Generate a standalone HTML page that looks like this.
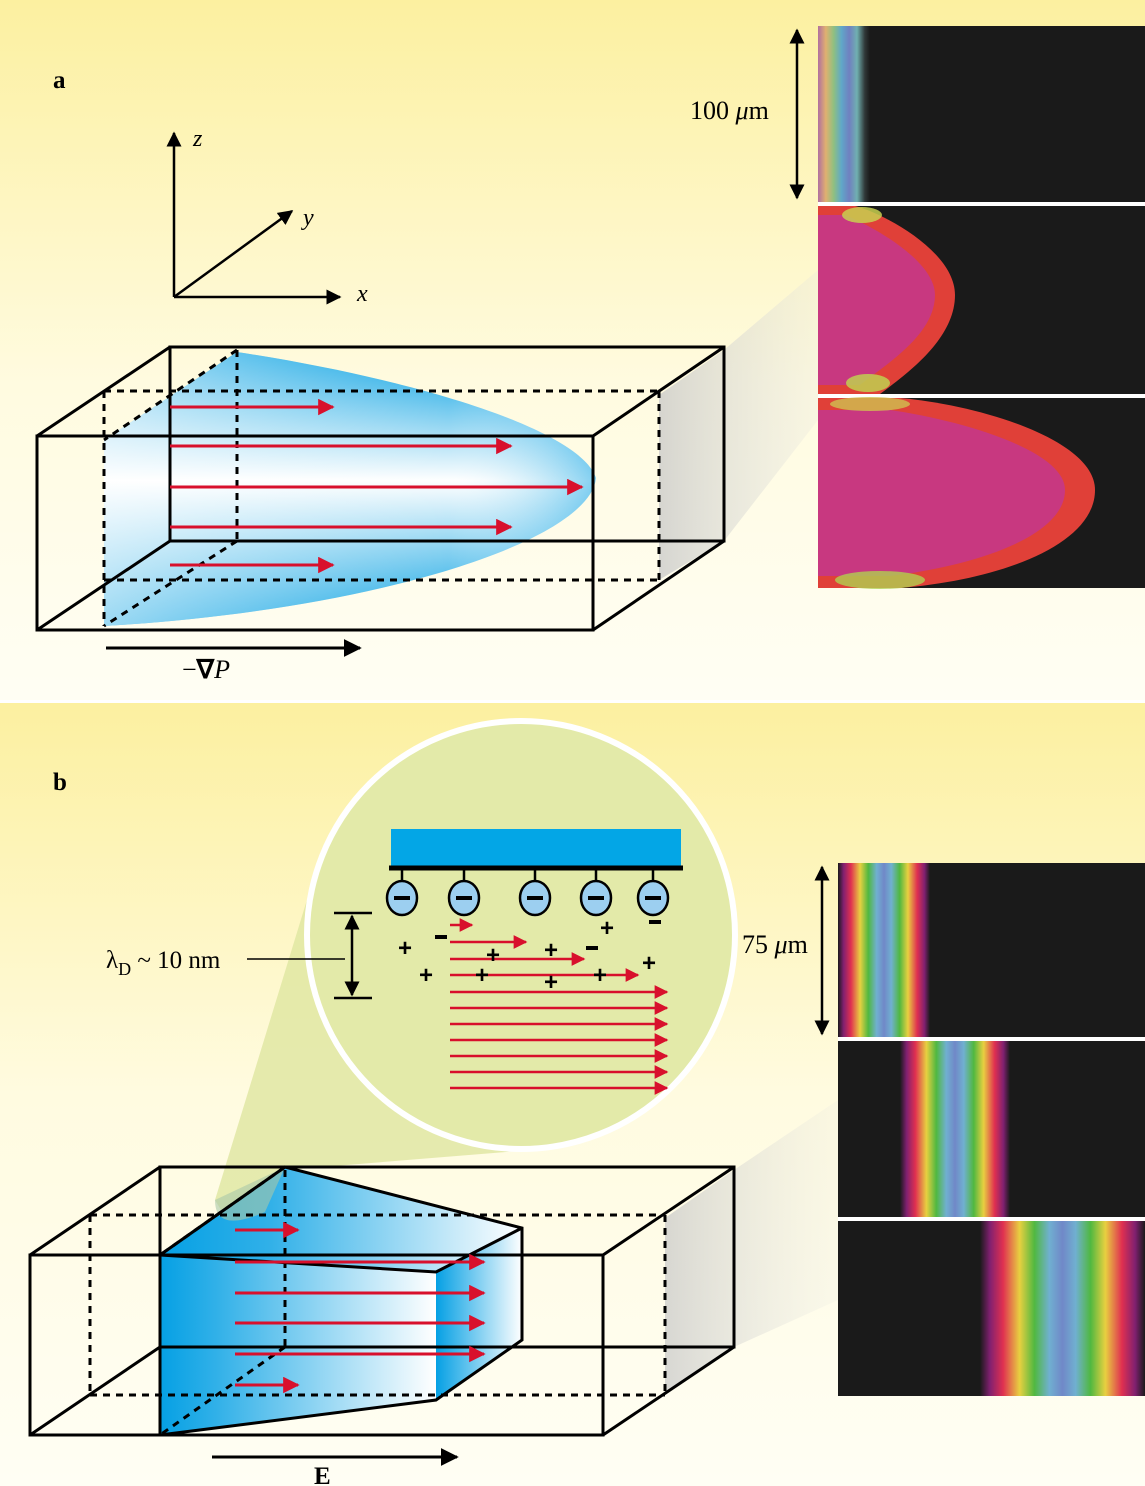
<!DOCTYPE html>
<html><head><meta charset="utf-8"><style>html,body{margin:0;padding:0;background:#fff}svg{display:block}</style></head><body>
<svg width="1145" height="1486" viewBox="0 0 1145 1486" xmlns="http://www.w3.org/2000/svg" font-family="Liberation Serif, serif">
<defs>
<linearGradient id="bgA" x1="0" y1="0" x2="0" y2="1"><stop offset="0" stop-color="#fcf0a0"/><stop offset="0.55" stop-color="#fffbe0"/><stop offset="1" stop-color="#fffef4"/></linearGradient>
<linearGradient id="bgB" x1="0" y1="0" x2="0" y2="1"><stop offset="0" stop-color="#fcf0a0"/><stop offset="0.5" stop-color="#fffbe0"/><stop offset="1" stop-color="#fffef4"/></linearGradient>
<linearGradient id="paraV" x1="0" y1="352" x2="0" y2="626" gradientUnits="userSpaceOnUse"><stop offset="0" stop-color="#05a0e2"/><stop offset="0.47" stop-color="#ffffff"/><stop offset="1" stop-color="#05a0e2"/></linearGradient>
<linearGradient id="paraH" x1="104" y1="0" x2="596" y2="0" gradientUnits="userSpaceOnUse"><stop offset="0" stop-color="#ffffff" stop-opacity="0.6"/><stop offset="0.7" stop-color="#ffffff" stop-opacity="0"/><stop offset="1" stop-color="#05a0e2" stop-opacity="0.5"/></linearGradient>
<linearGradient id="plugF" x1="160" y1="0" x2="436" y2="0" gradientUnits="userSpaceOnUse"><stop offset="0" stop-color="#05a0e4"/><stop offset="0.2" stop-color="#30b0e8"/><stop offset="1" stop-color="#ffffff"/></linearGradient>
<linearGradient id="plugR" x1="436" y1="0" x2="522" y2="0" gradientUnits="userSpaceOnUse"><stop offset="0" stop-color="#05a0e4"/><stop offset="1" stop-color="#ffffff"/></linearGradient>
<linearGradient id="plugT" x1="160" y1="0" x2="522" y2="0" gradientUnits="userSpaceOnUse"><stop offset="0" stop-color="#05a0e4"/><stop offset="0.3" stop-color="#30b0e8"/><stop offset="1" stop-color="#ffffff"/></linearGradient>
<linearGradient id="grayW" x1="659" y1="0" x2="830" y2="0" gradientUnits="userSpaceOnUse"><stop offset="0" stop-color="#c8c8c8"/><stop offset="1" stop-color="#e8e8e0" stop-opacity="0.3"/></linearGradient>
<linearGradient id="band1" x1="818" y1="0" x2="870" y2="0" gradientUnits="userSpaceOnUse"><stop offset="0" stop-color="#b070a0"/><stop offset="0.15" stop-color="#e0b070"/><stop offset="0.3" stop-color="#90c080"/><stop offset="0.45" stop-color="#60a8c8"/><stop offset="0.6" stop-color="#7080c0"/><stop offset="0.75" stop-color="#70b0b0"/><stop offset="0.9" stop-color="#303838"/><stop offset="1" stop-color="#1a1a1a"/></linearGradient>
<linearGradient id="rb" x1="0" y1="0" x2="1" y2="0"><stop offset="0" stop-color="#1a1a1a"/><stop offset="0.06" stop-color="#802070"/><stop offset="0.14" stop-color="#e03050"/><stop offset="0.24" stop-color="#e8d040"/><stop offset="0.33" stop-color="#50b840"/><stop offset="0.42" stop-color="#70b0d0"/><stop offset="0.5" stop-color="#7088c8"/><stop offset="0.58" stop-color="#70b0d0"/><stop offset="0.67" stop-color="#50b840"/><stop offset="0.76" stop-color="#e8d040"/><stop offset="0.86" stop-color="#e03050"/><stop offset="0.94" stop-color="#802070"/><stop offset="1" stop-color="#1a1a1a"/></linearGradient>
<marker id="ar" viewBox="0 0 10 10" refX="9" refY="5" markerWidth="6" markerHeight="5.5" orient="auto" markerUnits="strokeWidth"><path d="M0,0L10,5L0,10z" fill="#d8102c"/></marker>
<marker id="ak" viewBox="0 0 10 10" refX="9" refY="5" markerWidth="6" markerHeight="6" orient="auto-start-reverse" markerUnits="strokeWidth"><path d="M0,0L10,5L0,10z" fill="#000"/></marker>
</defs>

<rect x="0" y="0" width="1145" height="700" fill="url(#bgA)"/>
<rect x="0" y="703" width="1145" height="783" fill="url(#bgB)"/>

<!-- ===== PANEL A ===== -->
<text x="53" y="88" font-size="25" font-weight="bold">a</text>
<g stroke="#000" stroke-width="2.5" fill="none">
<line x1="174" y1="297" x2="174" y2="133" marker-end="url(#ak)"/>
<line x1="174" y1="297" x2="340" y2="297" marker-end="url(#ak)"/>
<line x1="174" y1="297" x2="292" y2="211" marker-end="url(#ak)"/>
</g>
<text x="193" y="146" font-size="24" font-style="italic">z</text>
<text x="357" y="301" font-size="24" font-style="italic">x</text>
<text x="303" y="225" font-size="24" font-style="italic">y</text>

<polygon points="659,395 724,350 818,270 818,420 724,541 659,580" fill="url(#grayW)" opacity="0.75"/>

<path d="M237,352 C420,380 580,430 596,478 C590,540 380,610 104,626 L104,440 Z" fill="url(#paraV)"/>
<path d="M237,352 C420,380 580,430 596,478 C590,540 380,610 104,626 L104,440 Z" fill="url(#paraH)"/>

<g stroke="#000" stroke-width="3" fill="none">
<rect x="37" y="436" width="556" height="194"/>
<rect x="170" y="347" width="554" height="194"/>
<line x1="37" y1="436" x2="170" y2="347"/><line x1="593" y1="436" x2="724" y2="347"/>
<line x1="37" y1="630" x2="170" y2="541"/><line x1="593" y1="630" x2="724" y2="541"/>
</g>
<g stroke="#000" stroke-width="3" fill="none" stroke-dasharray="7,6">
<line x1="104" y1="391" x2="659" y2="391"/><line x1="104" y1="580" x2="659" y2="580"/>
<line x1="104" y1="391" x2="104" y2="626"/><line x1="659" y1="391" x2="659" y2="580"/>
<line x1="237" y1="350" x2="237" y2="541"/>
<line x1="237" y1="350" x2="104" y2="440"/>
<line x1="237" y1="541" x2="104" y2="626"/>
</g>
<g stroke="#d8102c" stroke-width="3" marker-end="url(#ar)">
<line x1="170" y1="407" x2="333" y2="407"/>
<line x1="170" y1="446" x2="511" y2="446"/>
<line x1="170" y1="487" x2="582" y2="487"/>
<line x1="170" y1="527" x2="511" y2="527"/>
<line x1="170" y1="565" x2="333" y2="565"/>
</g>
<line x1="106" y1="648" x2="360" y2="648" stroke="#000" stroke-width="3" marker-end="url(#ak)"/>
<text x="182" y="678" font-size="26">−<tspan font-weight="bold">∇</tspan><tspan font-style="italic">P</tspan></text>

<rect x="818" y="26" width="327" height="562" fill="#fff"/>
<rect x="818" y="26" width="327" height="176" fill="#1a1a1a"/>
<rect x="818" y="26" width="52" height="176" fill="url(#band1)"/>
<rect x="818" y="206" width="327" height="188" fill="#1a1a1a"/>
<path d="M818,206 L855,206 C880,212 955,250 955,295 C955,340 905,375 880,394 L818,394 Z" fill="#e04038"/>
<path d="M818,215 L845,215 C870,225 935,260 935,295 C935,335 885,365 860,385 L818,385 Z" fill="#c83880"/>
<ellipse cx="862" cy="215" rx="20" ry="8" fill="#c8d050" opacity="0.85"/>
<ellipse cx="868" cy="383" rx="22" ry="9" fill="#c0d050" opacity="0.85"/>
<rect x="818" y="398" width="327" height="190" fill="#1a1a1a"/>
<path d="M818,398 L900,398 C980,405 1095,440 1095,490 C1095,545 1000,580 900,588 L818,588 Z" fill="#e04038"/>
<path d="M818,410 L890,410 C960,420 1065,450 1065,490 C1065,535 980,565 890,576 L818,576 Z" fill="#c83880"/>
<ellipse cx="870" cy="404" rx="40" ry="7" fill="#d0c050" opacity="0.8"/>
<ellipse cx="880" cy="580" rx="45" ry="9" fill="#b0d050" opacity="0.8"/>
<line x1="797" y1="30" x2="797" y2="198" stroke="#000" stroke-width="2.5" marker-start="url(#ak)" marker-end="url(#ak)"/>
<text x="690" y="119" font-size="26">100 <tspan font-style="italic">μ</tspan>m</text>

<!-- ===== PANEL B ===== -->
<text x="53" y="790" font-size="25" font-weight="bold">b</text>
<polygon points="665,1218 734,1170 838,1100 838,1300 734,1347 665,1395" fill="url(#grayW)" opacity="0.75"/>
<polygon points="310,890 530,1150 285,1170 230,1225 215,1200" fill="#dfe6a0" opacity="0.8"/>
<circle cx="521" cy="935" r="214" fill="#e3eaa9" stroke="#fff" stroke-width="6"/>
<rect x="391" y="829" width="290" height="37" fill="#03a6e6"/>
<line x1="389" y1="868" x2="683" y2="868" stroke="#000" stroke-width="5"/>
<g stroke="#000" stroke-width="2.5" fill="#9ccff0">
<line x1="402" y1="868" x2="402" y2="882"/><line x1="464" y1="868" x2="464" y2="882"/><line x1="535" y1="868" x2="535" y2="882"/><line x1="596" y1="868" x2="596" y2="882"/><line x1="653" y1="868" x2="653" y2="882"/>
<ellipse cx="402" cy="898" rx="15" ry="17"/><ellipse cx="464" cy="898" rx="15" ry="17"/><ellipse cx="535" cy="898" rx="15" ry="17"/><ellipse cx="596" cy="898" rx="15" ry="17"/><ellipse cx="653" cy="898" rx="15" ry="17"/>
</g>
<g stroke="#000" stroke-width="4"><line x1="394" y1="898" x2="410" y2="898"/><line x1="456" y1="898" x2="472" y2="898"/><line x1="527" y1="898" x2="543" y2="898"/><line x1="588" y1="898" x2="604" y2="898"/><line x1="645" y1="898" x2="661" y2="898"/></g>
<g stroke="#000" stroke-width="2.5"><line x1="334" y1="913" x2="372" y2="913"/><line x1="334" y1="998" x2="372" y2="998"/>
<line x1="352" y1="916" x2="352" y2="995" marker-start="url(#ak)" marker-end="url(#ak)"/>
<line x1="247" y1="959" x2="345" y2="959" stroke-width="1.5"/></g>
<text x="106" y="968" font-size="25">λ<tspan font-size="18" dy="7">D</tspan><tspan dy="-7"> ~ 10 nm</tspan></text>
<g stroke="#d8102c" stroke-width="2.5" marker-end="url(#ar)">
<line x1="450" y1="925" x2="472" y2="925"/>
<line x1="450" y1="942" x2="526" y2="942"/>
<line x1="450" y1="959" x2="584" y2="959"/>
<line x1="450" y1="975" x2="638" y2="975"/>
<line x1="450" y1="992" x2="667" y2="992"/>
<line x1="450" y1="1008" x2="667" y2="1008"/>
<line x1="450" y1="1024" x2="667" y2="1024"/>
<line x1="450" y1="1040" x2="667" y2="1040"/>
<line x1="450" y1="1056" x2="667" y2="1056"/>
<line x1="450" y1="1072" x2="667" y2="1072"/>
<line x1="450" y1="1088" x2="667" y2="1088"/>
</g>
<g font-family="Liberation Sans, sans-serif" font-size="24" font-weight="bold" text-anchor="middle">
<text x="405" y="956">+</text><text x="426" y="983">+</text><text x="482" y="983">+</text><text x="493" y="963">+</text><text x="551" y="958">+</text><text x="551" y="990">+</text><text x="600" y="983">+</text><text x="607" y="936">+</text><text x="649" y="971">+</text>
</g>
<g stroke="#000" stroke-width="4"><line x1="435" y1="937" x2="447" y2="937"/><line x1="586" y1="948" x2="598" y2="948"/><line x1="649" y1="922" x2="661" y2="922"/></g>

<polygon points="160,1255 285,1167 522,1228 436,1272" fill="url(#plugT)"/>
<polygon points="160,1255 436,1272 436,1400 160,1435" fill="url(#plugF)"/>
<polygon points="436,1272 522,1228 522,1340 436,1400" fill="url(#plugR)"/>
<path d="M215,1200 C215,1225 235,1225 265,1212 L285,1167 Z" fill="#a8c8a8" opacity="0.6"/>
<g stroke="#000" stroke-width="3" fill="none">
<rect x="30" y="1255" width="573" height="180"/>
<rect x="160" y="1167" width="574" height="180"/>
<line x1="30" y1="1255" x2="160" y2="1167"/><line x1="603" y1="1255" x2="734" y2="1167"/>
<line x1="30" y1="1435" x2="160" y2="1347"/><line x1="603" y1="1435" x2="734" y2="1347"/>
<polyline points="160,1255 285,1167 522,1228 522,1340 436,1400 160,1435"/>
<polyline points="160,1255 436,1272 522,1228"/>
<line x1="160" y1="1255" x2="160" y2="1435"/>
</g>
<g stroke="#000" stroke-width="3" fill="none" stroke-dasharray="7,6">
<line x1="90" y1="1215" x2="665" y2="1215"/><line x1="90" y1="1395" x2="665" y2="1395"/>
<line x1="90" y1="1215" x2="90" y2="1395"/><line x1="665" y1="1215" x2="665" y2="1395"/>
<line x1="285" y1="1170" x2="285" y2="1347"/>
<line x1="285" y1="1347" x2="160" y2="1435"/>
<line x1="285" y1="1167" x2="160" y2="1255"/>
</g>
<g stroke="#d8102c" stroke-width="3" marker-end="url(#ar)">
<line x1="235" y1="1230" x2="298" y2="1230"/>
<line x1="235" y1="1262" x2="484" y2="1262"/>
<line x1="235" y1="1293" x2="484" y2="1293"/>
<line x1="235" y1="1323" x2="484" y2="1323"/>
<line x1="235" y1="1354" x2="484" y2="1354"/>
<line x1="235" y1="1385" x2="298" y2="1385"/>
</g>
<line x1="212" y1="1457" x2="457" y2="1457" stroke="#000" stroke-width="3" marker-end="url(#ak)"/>
<text x="314" y="1484" font-size="25" font-weight="bold">E</text>

<rect x="838" y="863" width="307" height="533" fill="#fff"/>
<rect x="838" y="863" width="307" height="174" fill="#1a1a1a"/>
<rect x="838" y="863" width="92" height="174" fill="url(#rb)"/>
<rect x="838" y="1041" width="307" height="176" fill="#1a1a1a"/>
<rect x="900" y="1041" width="110" height="176" fill="url(#rb)"/>
<rect x="838" y="1221" width="307" height="175" fill="#1a1a1a"/>
<rect x="980" y="1221" width="165" height="175" fill="url(#rb)"/>
<line x1="822" y1="867" x2="822" y2="1034" stroke="#000" stroke-width="2.5" marker-start="url(#ak)" marker-end="url(#ak)"/>
<text x="742" y="953" font-size="26">75 <tspan font-style="italic">μ</tspan>m</text>
</svg>
</body></html>
